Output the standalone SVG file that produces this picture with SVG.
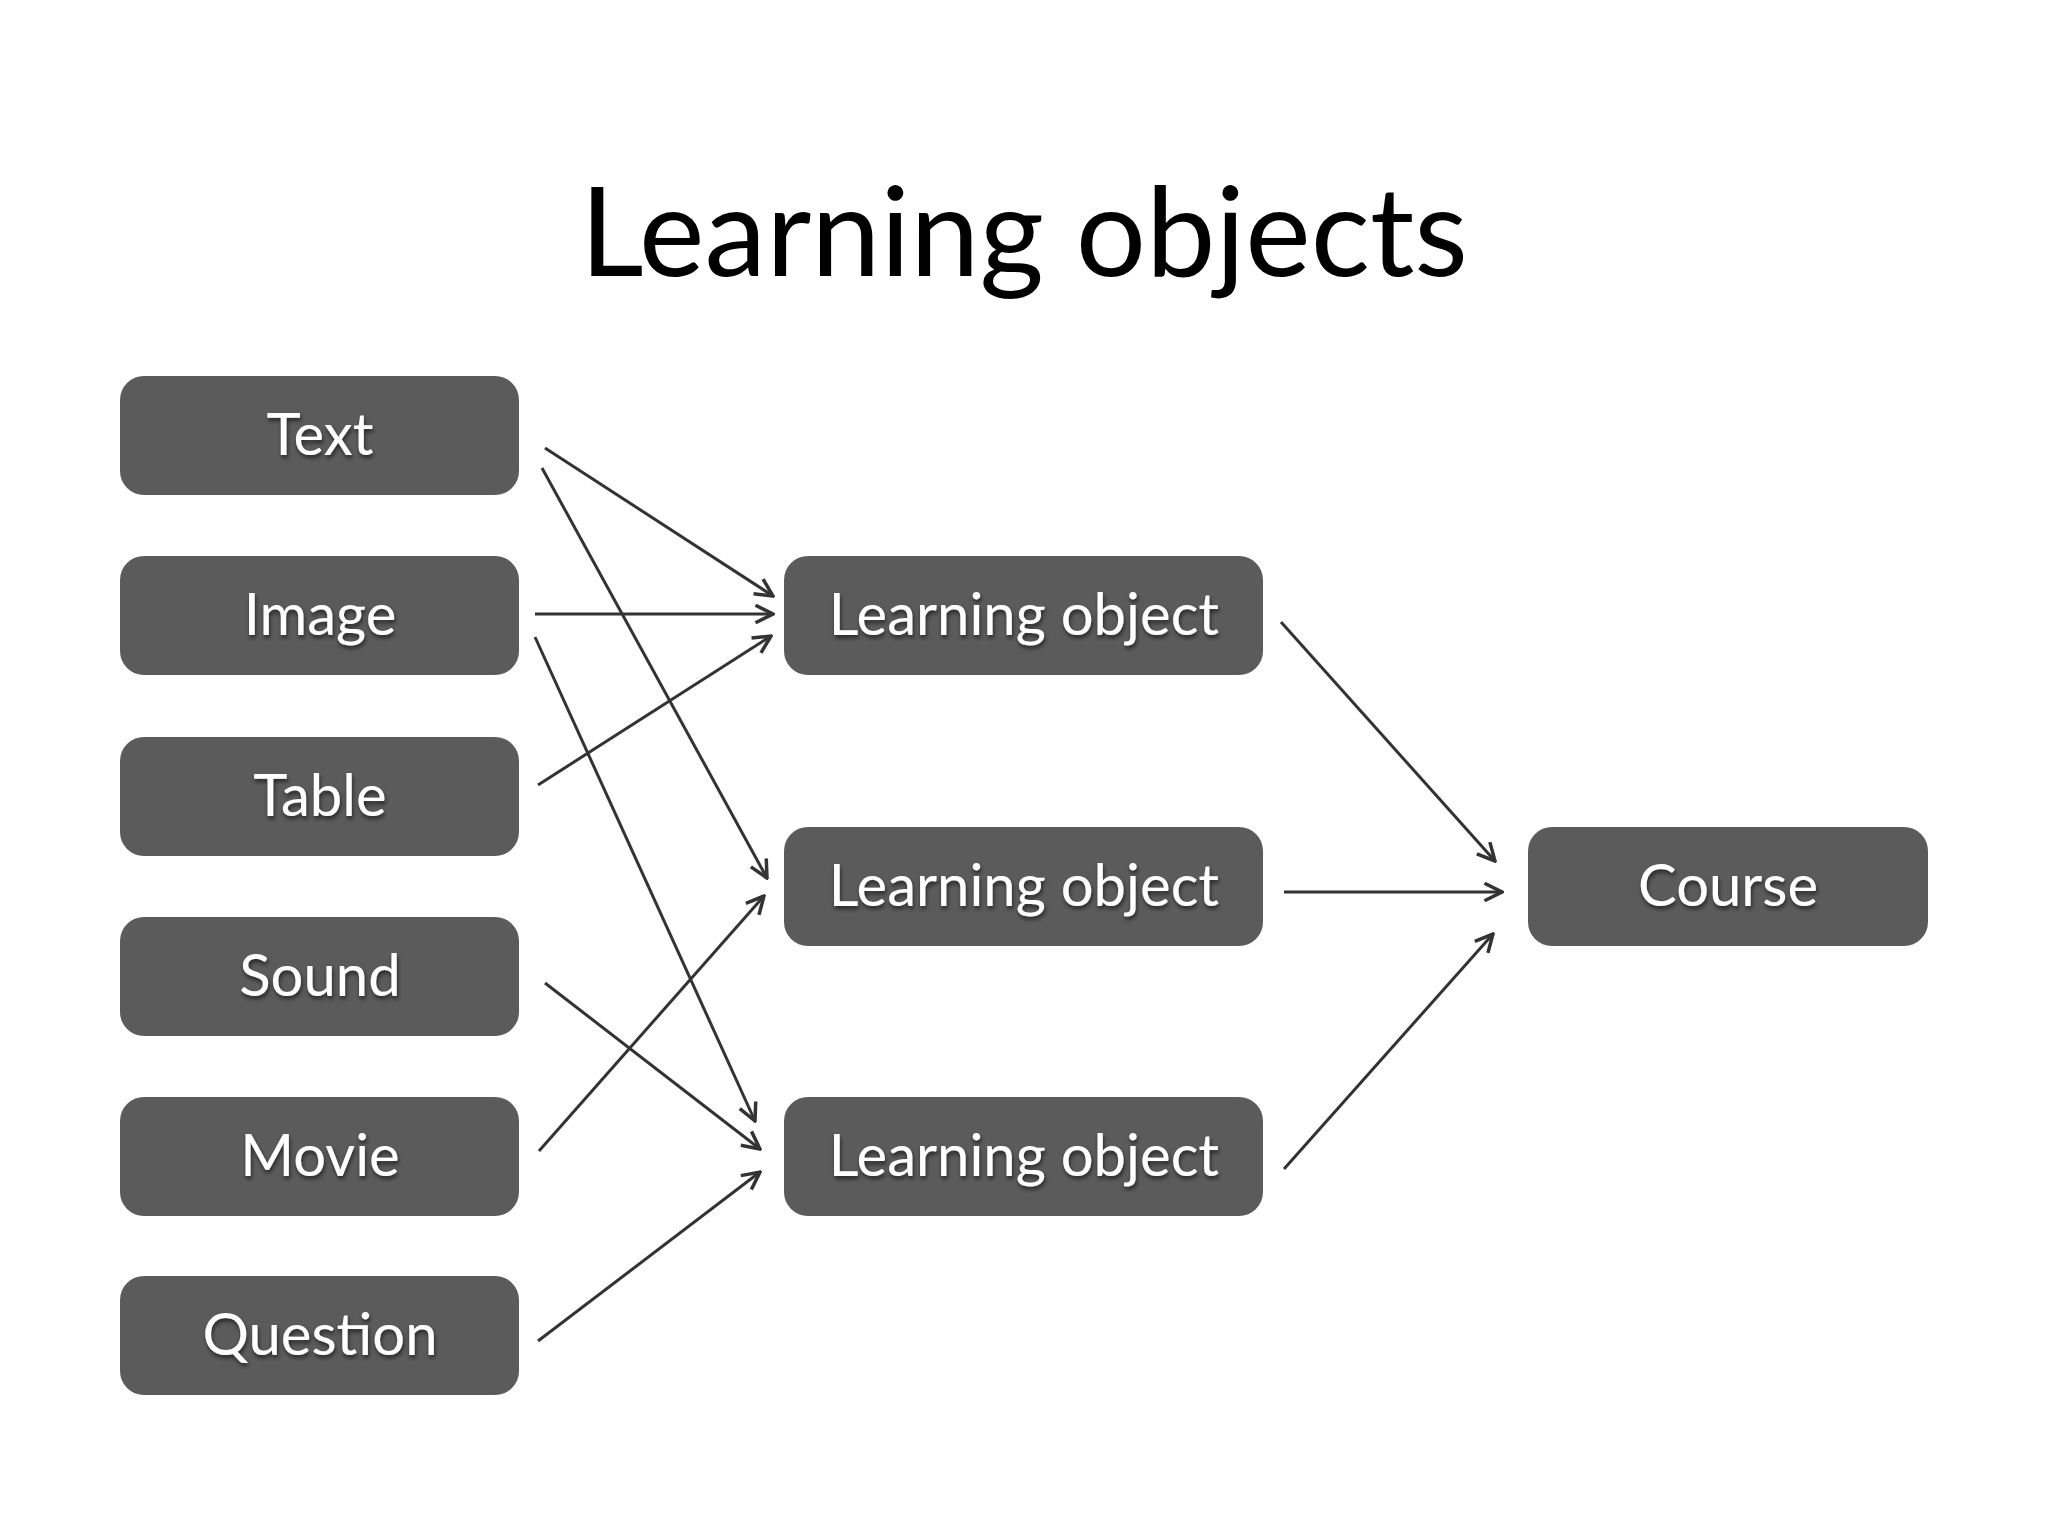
<svg xmlns="http://www.w3.org/2000/svg" width="2048" height="1536" viewBox="0 0 2048 1536">
<style>
.box{fill:#5b5b5b}
.lbl{font-family:Lato,"Open Sans",sans-serif;font-size:58px;fill:#fff;text-anchor:middle;filter:url(#sh)}
.c line{stroke:#333;stroke-width:3;marker-end:url(#ah)}
</style>
<defs>
<filter id="sh" x="-10%" y="-10%" width="120%" height="130%"><feDropShadow dx="1" dy="3" stdDeviation="2" flood-color="#000" flood-opacity="0.6"/></filter>
<marker id="ah" viewBox="0 0 12 12" refX="11" refY="6" markerWidth="7" markerHeight="7" orient="auto" markerUnits="strokeWidth"><path d="M1,1 L11,6 L1,11" fill="none" stroke="#333" stroke-width="2"/></marker>
</defs>
<rect width="2048" height="1536" fill="#fff"/>
<text x="1024" y="276" font-family="Lato,'Open Sans',sans-serif" font-size="124" text-anchor="middle" fill="#000">Learning objects</text>
<g id="text"><rect class="box" x="120" y="376" width="399" height="119" rx="24"/><text class="lbl" x="320" y="455">Text</text></g>
<g id="image"><rect class="box" x="120" y="556" width="399" height="119" rx="24"/><text class="lbl" x="320" y="635">Image</text></g>
<g id="table"><rect class="box" x="120" y="737" width="399" height="119" rx="24"/><text class="lbl" x="320" y="816">Table</text></g>
<g id="sound"><rect class="box" x="120" y="917" width="399" height="119" rx="24"/><text class="lbl" x="320" y="996">Sound</text></g>
<g id="movie"><rect class="box" x="120" y="1097" width="399" height="119" rx="24"/><text class="lbl" x="320" y="1176">Movie</text></g>
<g id="question"><rect class="box" x="120" y="1276" width="399" height="119" rx="24"/><text class="lbl" x="320" y="1355">Question</text></g>
<g id="lo1"><rect class="box" x="784" y="556" width="479" height="119" rx="24"/><text class="lbl" x="1024" y="635">Learning object</text></g>
<g id="lo2"><rect class="box" x="784" y="827" width="479" height="119" rx="24"/><text class="lbl" x="1024" y="906">Learning object</text></g>
<g id="lo3"><rect class="box" x="784" y="1097" width="479" height="119" rx="24"/><text class="lbl" x="1024" y="1176">Learning object</text></g>
<g id="course"><rect class="box" x="1528" y="827" width="400" height="119" rx="24"/><text class="lbl" x="1728" y="906">Course</text></g>
<g class="c" id="connectors">
<line x1="545" y1="448" x2="773" y2="596"/>
<line x1="542" y1="468" x2="767" y2="878"/>
<line x1="535" y1="614" x2="773" y2="614"/>
<line x1="535" y1="637" x2="755" y2="1121"/>
<line x1="538" y1="785" x2="771" y2="636"/>
<line x1="545" y1="983" x2="760" y2="1149"/>
<line x1="539" y1="1151" x2="764" y2="896"/>
<line x1="538" y1="1341" x2="760" y2="1172"/>
<line x1="1281" y1="622" x2="1495" y2="861"/>
<line x1="1284" y1="892" x2="1502" y2="892"/>
<line x1="1284" y1="1169" x2="1493" y2="934"/>
</g>
</svg>
